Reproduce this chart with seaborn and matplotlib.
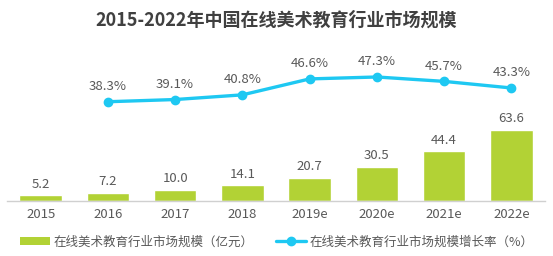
import matplotlib
matplotlib.use("Agg")
import matplotlib.pyplot as plt
from matplotlib.patches import Patch
import seaborn as sns
import pandas as pd

years = ["2015", "2016", "2017", "2018", "2019e", "2020e", "2021e", "2022e"]
market_size = [5.2, 7.2, 10.0, 14.1, 20.7, 30.5, 44.4, 63.6]
growth_years = ["2016", "2017", "2018", "2019e", "2020e", "2021e", "2022e"]
growth_rate = [38.3, 39.1, 40.8, 46.6, 47.3, 45.7, 43.3]

bar_label = "在线美术教育行业市场规模（亿元）"
line_label = "在线美术教育行业市场规模增长率（%）"

sns.set_theme(style="white")
plt.rcParams["font.family"] = ["Noto Sans CJK SC", "DejaVu Sans"]

green = "#b2d235"
blue = "#1ec8f2"
text_c = "#595959"

fig = plt.figure(figsize=(5.53, 2.56), dpi=100)
ax = fig.add_axes([7 / 553, 55 / 256, 538 / 553, 161 / 256])

df = pd.DataFrame({"year": years, "size": market_size})
sns.barplot(data=df, x="year", y="size", color=green, width=0.63,
            saturation=1, ax=ax)
ax.set_ylim(0, 144)
for i, v in enumerate(market_size):
    ax.text(i, v + 4, f"{v:.1f}", ha="center", va="bottom", fontsize=9.5, color=text_c)

ax2 = ax.twinx()
xpos = [years.index(y) for y in growth_years]
line, = ax2.plot(xpos, growth_rate, color=blue, lw=2.4, marker="o", ms=6)
ax2.set_ylim(2.2, 60.75)
for x, v in zip(xpos, growth_rate):
    ax2.text(x, v + 3.2, f"{v:.1f}%", ha="center", va="bottom", fontsize=9.5, color=text_c)

for a in (ax, ax2):
    for s in a.spines.values():
        s.set_visible(False)
    a.set_yticks([])
    a.set_ylabel("")
ax.spines["bottom"].set_visible(True)
ax.spines["bottom"].set_color("#d0d0d0")
ax.spines["bottom"].set_linewidth(1)
ax.set_xlabel("")
ax.set_xlim(-0.5, 7.5)
ax.tick_params(axis="x", length=0, labelsize=9.5, labelcolor=text_c, pad=5)

bar_handle = Patch(facecolor=green, edgecolor="none")
fig.legend([bar_handle, line], [bar_label, line_label], loc="center",
           bbox_to_anchor=(0.5, 14 / 256), ncol=2, frameon=False, fontsize=9,
           labelcolor=text_c, handlelength=2.4, handleheight=0.6,
           columnspacing=1.8, handletextpad=0.3)

fig.suptitle("2015-2022年中国在线美术教育行业市场规模", y=1 - 20 / 256, va="center",
             fontsize=13, fontweight="bold", color="#404040")

fig.savefig("out.png", dpi=100)
